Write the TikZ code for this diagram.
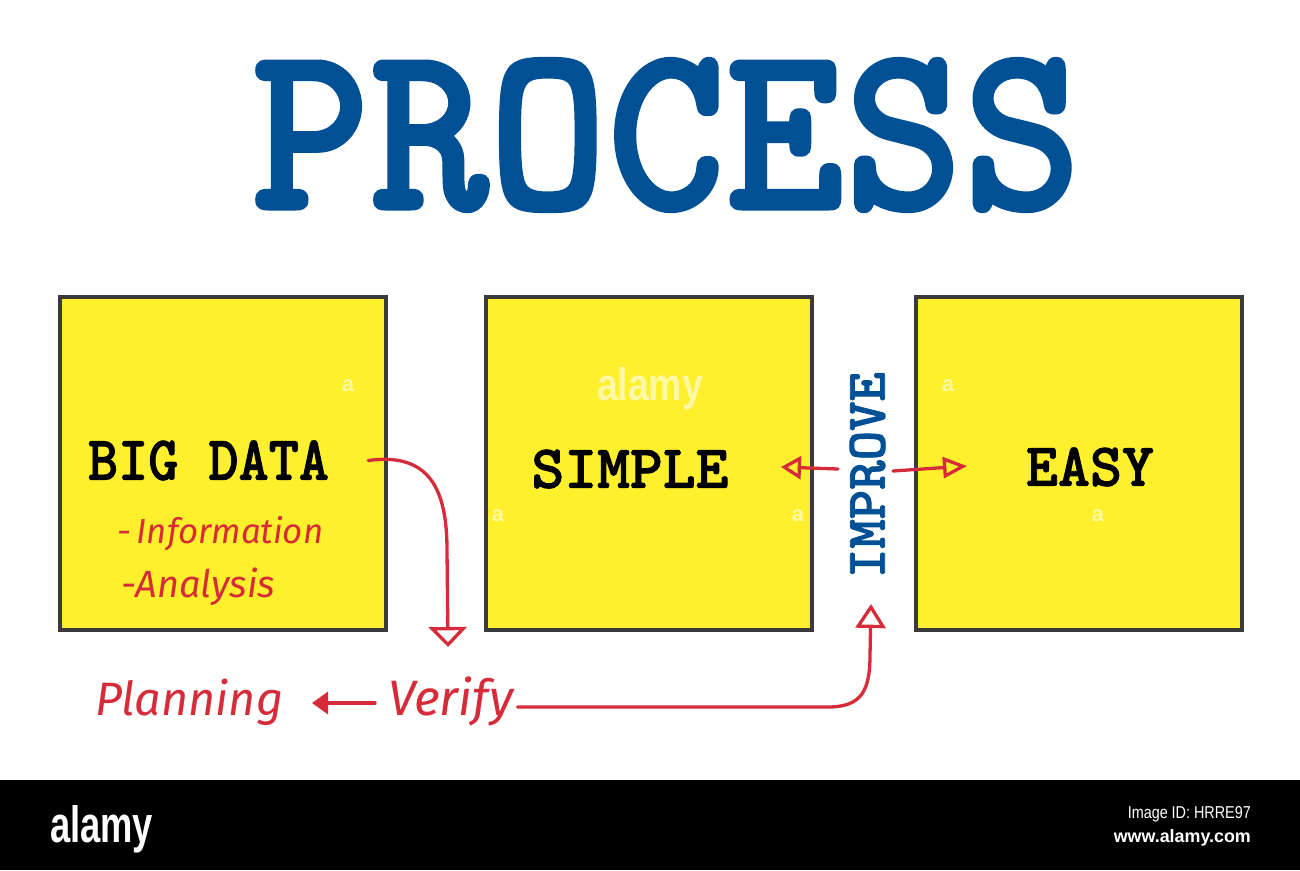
\documentclass[tikz,border=0pt]{standalone}
\usepackage{fontspec}
\usepackage{graphicx}
\usetikzlibrary{arrows.meta}
\newfontfamily\typefont{lmmonolt10-bold.otf}[FakeBold=1.5]
\newfontfamily\handfont{Fira Sans}
\newfontfamily\logofont{Liberation Sans}
\definecolor{procblue}{RGB}{0,80,150}
\definecolor{notered}{RGB}{214,44,58}
\definecolor{stickyyellow}{RGB}{254,240,44}
\definecolor{stickyedge}{RGB}{58,58,60}
\definecolor{wmyellow}{RGB}{255,248,165}
\newcommand{\typetext}[3]{\resizebox{#1}{#2}{\typefont #3}}
\newcommand{\handtext}[2]{\resizebox{#1}{!}{\handfont\itshape #2}}
\begin{document}
\begin{tikzpicture}[x=1pt,y=-1pt,
  stickybox/.style={draw=stickyedge, fill=stickyyellow, line width=3.5pt,
    minimum width=326pt, minimum height=333pt, inner sep=0pt},
  typelabel/.style={inner sep=0pt, text=black},
  handlabel/.style={inner sep=0pt, text=notered, anchor=base west},
  wmark/.style={inner sep=0pt, text=wmyellow, font=\logofont\bfseries\fontsize{22}{22}\selectfont},
  redline/.style={draw=notered, line width=3.3pt, line cap=round, line join=round},
  downtip/.style={-{Triangle[open, length=20pt, width=38pt]}},
  uptip/.style={-{Triangle[open, length=24pt, width=30pt]}},
  lefttip/.style={-{Triangle[open, length=20pt, width=23pt]}},
  righttip/.style={-{Triangle[open, length=24pt, width=21pt]}},
  solidtip/.style={-{Triangle[length=16pt, width=22pt]}}]
\path[use as bounding box, fill=white] (0,0) rectangle (1300,870);

% title
\node[inner sep=0pt, text=procblue] (title) at (666.5,135) {\typetext{830pt}{150pt}{PROCESS}};

% sticky notes
\node[stickybox] (box1) at (223,463.5) {};
\node[stickybox] (box2) at (649,463.5) {};
\node[stickybox] (box3) at (1079,463.5) {};

% watermarks
\node[inner sep=0pt, text=wmyellow] (wm) at (650,389) {\resizebox{106pt}{33pt}{\logofont\bfseries alamy}};
\node[wmark] (wa1) at (348,386) {a};
\node[wmark] (wa2) at (948,386) {a};
\node[wmark] (wa3) at (498,516) {a};
\node[wmark] (wa4) at (798,516) {a};
\node[wmark] (wa5) at (1098,516) {a};

% labels
\node[typelabel] (tbig) at (208.5,460.5) {\typetext{241pt}{39pt}{BIG DATA}};
\node[typelabel] (tsimple) at (630,469) {\typetext{197pt}{38pt}{SIMPLE}};
\node[typelabel] (teasy) at (1090,467) {\typetext{128pt}{38pt}{EASY}};
\node[inner sep=0pt, text=procblue, rotate=90] (timprove) at (867.5,475) {\typetext{206pt}{35pt}{IMPROVE}};

\node[handlabel] (tinfo) at (117,543) {\handtext{206pt}{-\,Information}};
\node[handlabel] (tanal) at (121,597) {\handtext{154pt}{-Analysis}};
\node[handlabel] (tplan) at (95,715) {\handtext{188pt}{Planning}};
\node[handlabel] (tverify) at (388,715) {\handtext{125pt}{Verify}};

% connector ends
\coordinate (downend) at (448,647);
\coordinate (upend) at (871,604);
\coordinate (leftend) at (781,467);
\coordinate (rightend) at (967,466);
\coordinate (planend) at (312,703);

% connectors
\draw[redline, downtip] ([xshift=39pt]tbig.east)
  .. controls (430,452) and (447,490) .. (447,550) -- (downend);
\draw[redline, uptip] ([xshift=4pt,yshift=8pt]tverify.base east)
  -- (828,707) .. controls (862,707) and (870,690) .. (870,655) -- (upend);
\draw[redline, lefttip] ([xshift=-29.5pt,yshift=6pt]timprove.center) -- (leftend);
\draw[redline, righttip] ([xshift=25.5pt,yshift=4pt]timprove.center) -- (rightend);
\draw[redline, solidtip] ([xshift=-13pt,yshift=12pt]tverify.base west) -- (planend);

% bottom bar
\fill[black] (0,780) rectangle (1300,870);
\node[inner sep=0pt, text=white, anchor=base west] (logo) at (50,842) {\resizebox{103pt}{37pt}{\logofont\bfseries alamy}};
\node[inner sep=0pt, text=white, anchor=base east] (imgid) at (1251,818) {\resizebox{123pt}{12pt}{\logofont Image ID: HRRE97}};
\node[inner sep=0pt, text=white, anchor=base east] (site) at (1251,842) {\resizebox{137pt}{13pt}{\logofont\bfseries www.alamy.com}};
\end{tikzpicture}
\end{document}
